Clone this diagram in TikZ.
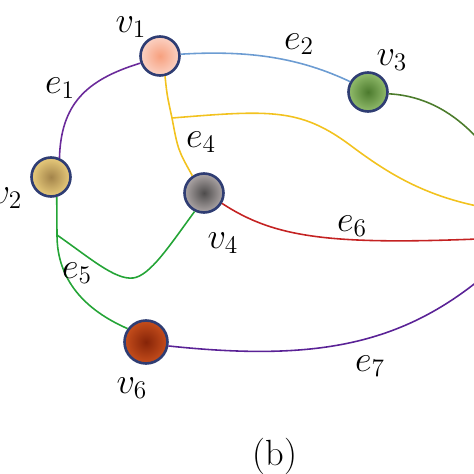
\documentclass[tikz,border=0pt]{standalone}
\definecolor{rim}{HTML}{2F3D73}
\definecolor{in1}{HTML}{F7A07E}
\definecolor{out1}{HTML}{FBD2C4}
\definecolor{in2}{HTML}{A3844A}
\definecolor{out2}{HTML}{E8CB7C}
\definecolor{in3}{HTML}{4C7A2E}
\definecolor{out3}{HTML}{92BC6C}
\definecolor{in4}{HTML}{4E4C4C}
\definecolor{out4}{HTML}{ADA6A6}
\definecolor{in6}{HTML}{862408}
\definecolor{out6}{HTML}{C64E1C}
\definecolor{ce1}{HTML}{6A2A9A}
\definecolor{ce2}{HTML}{6C9CD2}
\definecolor{ce3}{HTML}{4C7C2C}
\definecolor{ce4}{HTML}{F2C21E}
\definecolor{ce5}{HTML}{24A436}
\definecolor{ce6}{HTML}{C42222}
\definecolor{ce7}{HTML}{5A2296}
\begin{document}
\begin{tikzpicture}[x=0.02cm, y=-0.02cm,
		vtx/.style={circle, draw=rim, line width=1.5pt, minimum size=0.78cm, inner sep=0pt, shading=radial},
		edg/.style={line width=0.9pt},
		lbl/.style={font=\huge}]
	\useasboundingbox (0,0) rectangle (474,474);
	\foreach \n/\x/\y in {1/160/56, 2/51/177, 3/368/92, 4/204/193}
		\node[vtx, inner color=in\n, outer color=out\n] (v\n) at (\x,\y) {};
	\node[vtx, minimum size=0.86cm, inner color=in6, outer color=out6] (v6) at (146,342) {};
	\coordinate (j4) at (172,118);
	\coordinate (j5) at (57,235);
	\coordinate (p3) at (495,160);
	\coordinate (p4) at (500,210);
	\coordinate (p6) at (500,238);
	\coordinate (p7) at (500,262);
	\draw[edg, ce1] (v2.66) .. controls (61,105) and (85,80) .. (v1.200);
	\draw[edg, ce2] (v1.5) .. controls (250,50) and (300,58) .. (v3.150);
	\draw[edg, ce3] (v3.-5) .. controls (430,96) and (465,118) .. (p3);
	\draw[edg, ce4] (v1.-76) .. controls (167,95) .. (j4) .. controls (178,150) .. (v4.124);
	\draw[edg, ce4] (j4) .. controls (270,110) and (300,108) .. (350,145) .. controls (390,175) and (430,200) .. (p4);
	\draw[edg, ce5] (v2.-74) -- (j5);
	\draw[edg, ce5] (j5) .. controls (90,258) and (115,280) .. (133,278) .. controls (150,276) and (170,245) .. (v4.243);
	\draw[edg, ce5] (j5) .. controls (57,280) and (85,310) .. (v6.144);
	\draw[edg, ce6] (v4.-30) .. controls (275,238) and (330,246) .. (p6);
	\draw[edg, ce7] (v6.-10) .. controls (320,362) and (410,345) .. (p7);
	\foreach \nm/\t/\x/\y in {lv1/v_1/131/27, lv2/v_2/7/198, lv3/v_3/392/60, lv4/v_4/223/243, lv6/v_6/132/388,
			le1/e_1/60/88, le2/e_2/299/44, le4/e_4/201/142, le5/e_5/77/273, le6/e_6/352/226, le7/e_7/370/366}
		\node[lbl] (\nm) at (\x,\y) {$\t$};
	\node[lbl, anchor=base] (cap) at (275,465) {(b)};
\end{tikzpicture}
\end{document}
